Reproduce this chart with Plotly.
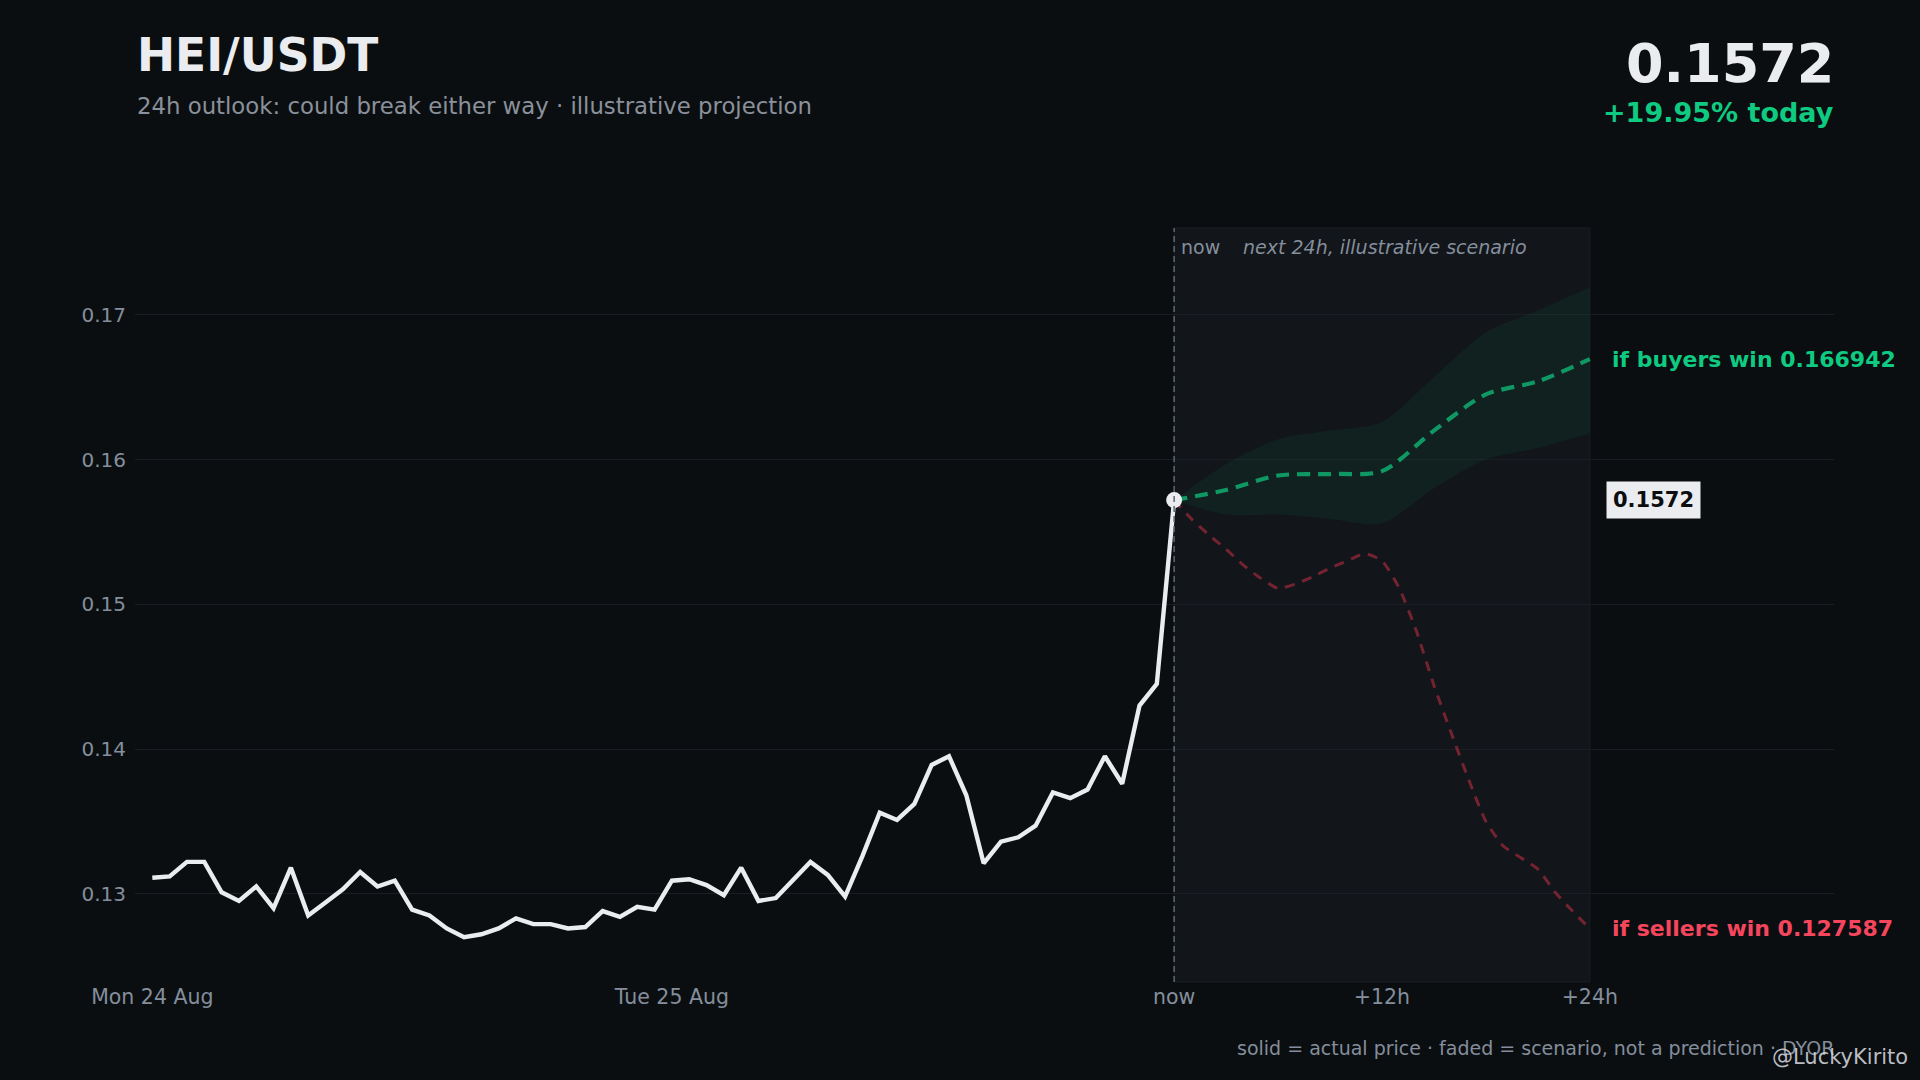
import plotly.graph_objects as go

# price history, hourly closes (x = hours relative to now)
hist_hours = list(range(-59, 1))
hist_price = [
    0.1311, 0.1312, 0.1322, 0.1322, 0.1301, 0.1295, 0.1305, 0.1290, 0.1318, 0.1285,
    0.1294, 0.1303, 0.1315, 0.1305, 0.1309, 0.1289, 0.1285, 0.1276, 0.1270, 0.1272,
    0.1276, 0.1283, 0.1279, 0.1279, 0.1276, 0.1277, 0.1288, 0.1284, 0.1291, 0.1289,
    0.1309, 0.1310, 0.1306, 0.1299, 0.1318, 0.1295, 0.1297, 0.1310, 0.1322, 0.1313,
    0.1298, 0.1326, 0.1356, 0.1351, 0.1362, 0.1389, 0.1395, 0.1368, 0.1321, 0.1336,
    0.1339, 0.1347, 0.1370, 0.1366, 0.1372, 0.1395, 0.1376, 0.1430, 0.1445, 0.1572,
]

# scenario: buyers win (3h steps) with its band
buy_hours = [0, 3, 6, 9, 12, 15, 18, 21, 24]
buy_mid = [0.1572, 0.1579, 0.1589, 0.1590, 0.1592, 0.1620, 0.1645, 0.1654, 0.166942]
buy_upper = [0.1572, 0.1597, 0.1614, 0.1620, 0.1626, 0.1657, 0.1688, 0.1703, 0.1719]
buy_lower = [0.1572, 0.1562, 0.1562, 0.1559, 0.1556, 0.1580, 0.1600, 0.1608, 0.1618]

# scenario: sellers win (hourly)
sell_hours = list(range(0, 25))
sell_path = [
    0.1572, 0.1559, 0.1548, 0.1538, 0.1527, 0.1518, 0.1511, 0.1514, 0.1519, 0.1525,
    0.1530, 0.1535, 0.1530, 0.1511, 0.1481, 0.1444, 0.1411, 0.1379, 0.1350, 0.1333,
    0.1325, 0.1317, 0.1301, 0.1288, 0.127587,
]

x_tickvals = [-59, -29, 0, 12, 24]
x_ticktext = ["Mon 24 Aug", "Tue 25 Aug", "now", "+12h", "+24h"]
y_tickvals = [0.13, 0.14, 0.15, 0.16, 0.17]

last_price = hist_price[-1]
change_today = "+19.95% today"

BG = "#0b0e11"
GREEN = "#0ecb81"
RED = "#f6465d"
GREY = "#848e9c"
WHITE = "#eaecef"
FONT = "DejaVu Sans"

fig = go.Figure()

# band
fig.add_trace(go.Scatter(x=buy_hours, y=buy_upper, mode="lines", line=dict(width=0, shape="spline", smoothing=0.8),
                         hoverinfo="skip", showlegend=False))
fig.add_trace(go.Scatter(x=buy_hours, y=buy_lower, mode="lines", line=dict(width=0, shape="spline", smoothing=0.8),
                         fill="tonexty", fillcolor="rgba(14,203,129,0.07)", hoverinfo="skip", showlegend=False))

# sellers path
fig.add_trace(go.Scatter(x=sell_hours, y=sell_path, mode="lines",
                         line=dict(color="rgba(150,40,58,0.75)", width=3, dash="10px,8px", shape="spline", smoothing=0.6),
                         showlegend=False))
# buyers path
fig.add_trace(go.Scatter(x=buy_hours, y=buy_mid, mode="lines",
                         line=dict(color="rgba(14,203,129,0.7)", width=4.2, dash="13px,8px", shape="spline", smoothing=0.8),
                         showlegend=False))

# actual price
fig.add_trace(go.Scatter(x=hist_hours, y=hist_price, mode="lines",
                         line=dict(color=WHITE, width=4.4), showlegend=False))
fig.add_trace(go.Scatter(x=[hist_hours[-1]], y=[last_price], mode="markers",
                         marker=dict(color=WHITE, size=16, line=dict(width=0)), showlegend=False))

# projection window
fig.add_shape(type="rect", xref="x", yref="paper", x0=0, x1=24, y0=0, y1=1,
              fillcolor="#121519", line=dict(color="#1b1f25", width=1), layer="below")
fig.add_shape(type="line", xref="x", yref="paper", x0=0, x1=0, y0=0, y1=1,
              line=dict(color="#5e6673", width=1.5, dash="6px,4px"))

ann = []
ann.append(dict(x=0, y=0.975, xref="x", yref="paper", text="now", showarrow=False,
                xanchor="left", yanchor="middle", xshift=5, font=dict(family=FONT, size=19, color=GREY)))
ann.append(dict(x=0, y=0.975, xref="x", yref="paper", text="<i>next 24h, illustrative scenario</i>", showarrow=False,
                xanchor="left", yanchor="middle", xshift=67, font=dict(family=FONT, size=19, color=GREY)))
ann.append(dict(x=24, y=buy_mid[-1], xref="x", yref="y", text="<b>if buyers win %.6f</b>" % buy_mid[-1],
                showarrow=False, xanchor="left", xshift=20, font=dict(family=FONT, size=22, color=GREEN)))
ann.append(dict(x=24, y=sell_path[-1], xref="x", yref="y", text="<b>if sellers win %.6f</b>" % sell_path[-1],
                showarrow=False, xanchor="left", xshift=20, font=dict(family=FONT, size=22, color=RED)))
ann.append(dict(x=24, y=last_price, xref="x", yref="y", text="<b>%.4f</b>" % last_price,
                showarrow=False, xanchor="left", xshift=16, bgcolor=WHITE, borderpad=6,
                font=dict(family=FONT, size=21, color=BG)))

# header
ann.append(dict(x=0, y=1.229, xref="paper", yref="paper", text="<b>HEI/USDT</b>", showarrow=False,
                xanchor="left", yanchor="middle", font=dict(family=FONT, size=45.5, color=WHITE)))
ann.append(dict(x=0, y=1.1615, xref="paper", yref="paper",
                text="24h outlook: could break either way · illustrative projection", showarrow=False,
                xanchor="left", yanchor="middle", font=dict(family=FONT, size=22.8, color="#8a919b")))
ann.append(dict(x=1.001, y=1.218, xref="paper", yref="paper", text="<b>%.4f</b>" % last_price, showarrow=False,
                xanchor="right", yanchor="middle", font=dict(family=FONT, size=54, color=WHITE)))
ann.append(dict(x=1.001, y=1.153, xref="paper", yref="paper", text="<b>%s</b>" % change_today, showarrow=False,
                xanchor="right", yanchor="middle", font=dict(family=FONT, size=27, color=GREEN)))

# footer
ann.append(dict(x=1.001, y=-0.0875, xref="paper", yref="paper",
                text="solid = actual price · faded = scenario, not a prediction · DYOR", showarrow=False,
                xanchor="right", yanchor="middle", font=dict(family=FONT, size=19, color=GREY)))
ann.append(dict(x=1.0447, y=-0.099, xref="paper", yref="paper", text="@LuckyKirito", showarrow=False,
                xanchor="right", yanchor="middle", font=dict(family=FONT, size=21, color="rgba(220,222,226,0.85)")))

fig.update_layout(
    width=1920, height=1080,
    paper_bgcolor=BG, plot_bgcolor=BG,
    margin=dict(l=135, r=86, t=228, b=98),
    font=dict(family=FONT, color=GREY),
    hovermode=False,
    annotations=ann,
    xaxis=dict(range=[-60, 38.1], tickvals=x_tickvals, ticktext=x_ticktext, showgrid=False,
               zeroline=False, showline=False, ticks="", tickfont=dict(size=20.5, color=GREY)),
    yaxis=dict(range=[0.1239, 0.1760], tickvals=y_tickvals, tickformat=".2f", showgrid=True,
               gridcolor="#1a1e24", gridwidth=1, zeroline=False, showline=False, ticks="",
               ticklabelstandoff=8, tickfont=dict(size=20, color=GREY)),
)

fig.write_html("out.html", config={"displayModeBar": False},
               post_script="document.body.style.margin='0';document.body.style.background='#0b0e11';")
